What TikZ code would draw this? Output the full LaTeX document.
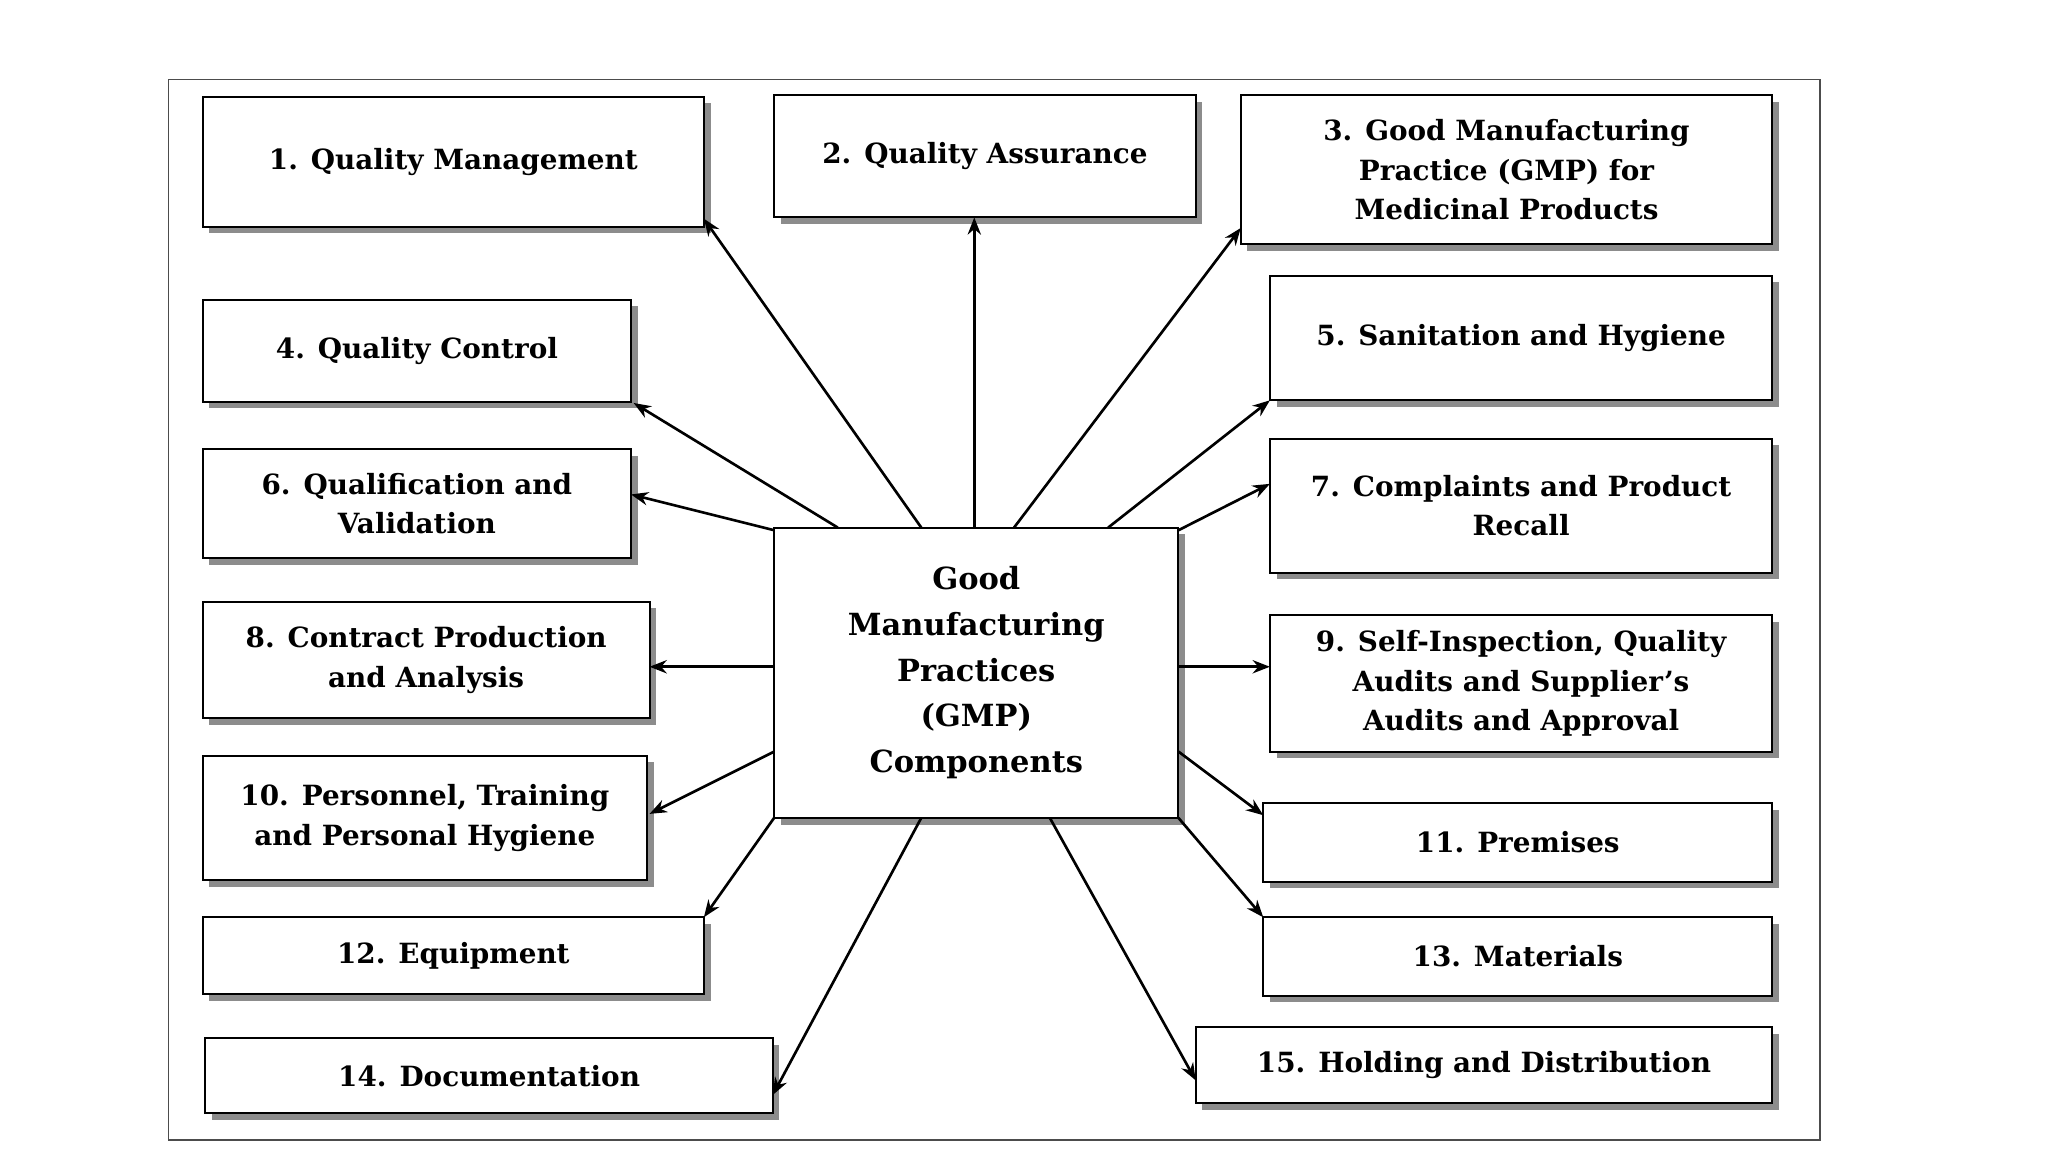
\documentclass[tikz,border=0pt]{standalone}
\usepackage{fontspec}
\setmainfont{DejaVu Serif}
\usetikzlibrary{arrows.meta,shadows}
\begin{document}
\begin{tikzpicture}[x=1pt,y=-1pt,
 bx/.style={draw=black,line width=1.5pt,fill=white,align=center,inner sep=2pt,
   font=\fontsize{21}{30}\selectfont\bfseries,
   drop shadow={shadow xshift=5pt,shadow yshift=-5pt,fill=black!45,opacity=1}},
 ar/.style={line width=2pt,-{Stealth[length=13pt,width=10pt]}}]
\useasboundingbox (0,0) rectangle (1545,869);
\draw[line width=1.2pt,black!70] (127,60) rectangle (1373,860);
\node[bx,minimum width=378,minimum height=98] (n1) at (342,122) {1. Quality Management};
\node[bx,minimum width=318,minimum height=92] (n2) at (743,118) {2. Quality Assurance};
\node[bx,minimum width=401,minimum height=112] (n3) at (1136.5,128) {3. Good Manufacturing\\Practice (GMP) for\\Medicinal Products};
\node[bx,minimum width=323,minimum height=77] (n4) at (314.5,264.5) {4. Quality Control};
\node[bx,minimum width=379,minimum height=94] (n5) at (1147.5,255) {5. Sanitation and Hygiene};
\node[bx,minimum width=323,minimum height=82] (n6) at (314.5,380) {6. Qualification and\\Validation};
\node[bx,minimum width=379,minimum height=101] (n7) at (1147.5,381.5) {7. Complaints and Product\\Recall};
\node[bx,minimum width=337,minimum height=88] (n8) at (321.5,498) {8. Contract Production\\and Analysis};
\node[bx,minimum width=379,minimum height=103] (n9) at (1147.5,515.5) {9. Self-Inspection, Quality\\Audits and Supplier’s\\Audits and Approval};
\node[bx,minimum width=335,minimum height=94] (n10) at (320.5,617) {10. Personnel, Training\\and Personal Hygiene};
\node[bx,minimum width=384,minimum height=59] (n11) at (1145,635.5) {11. Premises};
\node[bx,minimum width=378,minimum height=58] (n12) at (342,721) {12. Equipment};
\node[bx,minimum width=384,minimum height=59] (n13) at (1145,721.5) {13. Materials};
\node[bx,minimum width=428,minimum height=57] (n14) at (369,811.5) {14. Documentation};
\node[bx,minimum width=435,minimum height=57] (n15) at (1119.5,803.5) {15. Holding and Distribution};
\node[bx,minimum width=305,minimum height=219,font=\fontsize{23}{34.5}\selectfont\bfseries] (c) at (736.5,507.5) {Good\\Manufacturing\\Practices\\(GMP)\\Components};
\coordinate (s1) at (695,398); \coordinate (t1) at (531,165);
\coordinate (s2) at (735,398); \coordinate (t2) at (735,164);
\coordinate (s3) at (765,398); \coordinate (t3) at (936,172);
\coordinate (s4) at (632,398); \coordinate (t4) at (478,304);
\coordinate (s5) at (836,398); \coordinate (t5) at (958,302);
\coordinate (s6) at (584,400); \coordinate (t6) at (476,373);
\coordinate (s7) at (889,400); \coordinate (t7) at (958,365);
\coordinate (s8) at (584,503); \coordinate (t8) at (490,503);
\coordinate (s9) at (889,503); \coordinate (t9) at (958,503);
\coordinate (s10) at (584,567); \coordinate (t10) at (490,614);
\coordinate (s11) at (889,567); \coordinate (t11) at (953,615);
\coordinate (s12) at (584,617); \coordinate (t12) at (531,692);
\coordinate (s13) at (889,617); \coordinate (t13) at (953,692);
\coordinate (s14) at (695,617); \coordinate (t14) at (583,826);
\coordinate (s15) at (792,617); \coordinate (t15) at (902,815);
\foreach \i in {1,...,15} {\draw[ar] (s\i) -- (t\i);}
\end{tikzpicture}
\end{document}
